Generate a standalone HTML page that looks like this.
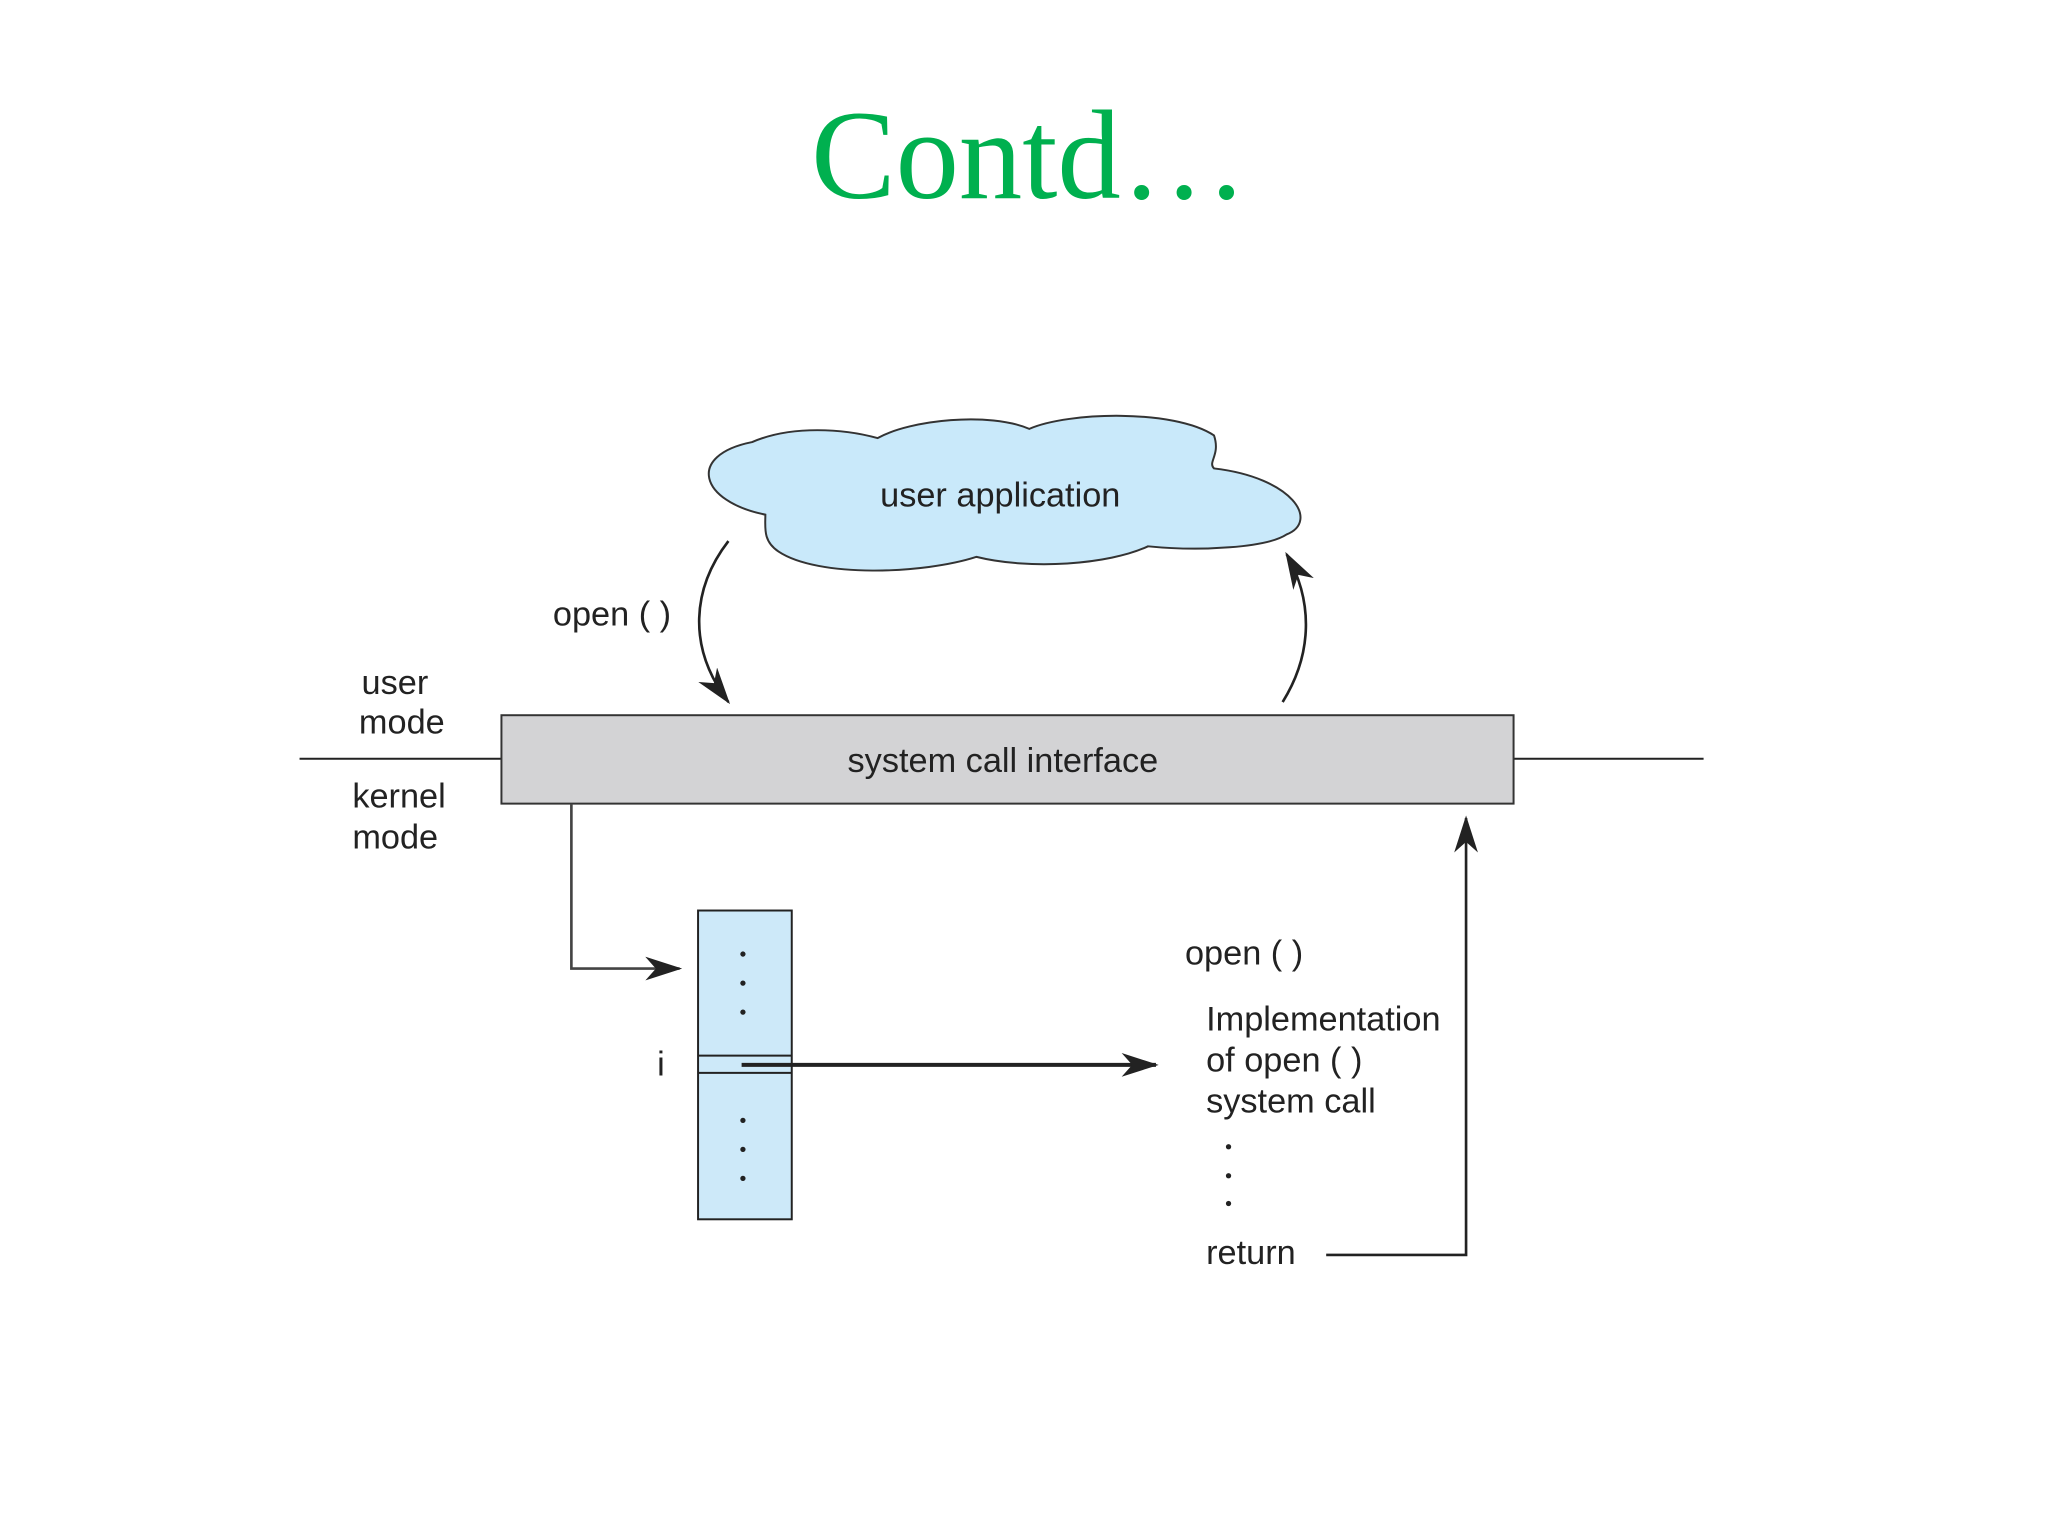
<!DOCTYPE html>
<html><head><meta charset="utf-8"><style>html,body{margin:0;padding:0;background:#fff}svg{display:block}</style></head>
<body>
<svg width="2048" height="1536" viewBox="0 0 1552 1164" xmlns="http://www.w3.org/2000/svg" font-family="Liberation Sans, sans-serif">
<defs>
<marker id="ah" markerWidth="12" markerHeight="10" refX="11" refY="5" orient="auto" markerUnits="userSpaceOnUse"><path d="M0,0 L12,5 L0,10 L4,5 Z" fill="#222"/></marker>
<marker id="ah2" markerWidth="28" markerHeight="18" refX="26" refY="9" orient="auto" markerUnits="userSpaceOnUse"><path d="M0,0 L28,9 L0,18 L8,9 Z" fill="#222"/></marker>
</defs>
<rect width="1552" height="1164" fill="#fff"/>
<text x="780" y="150" text-anchor="middle" font-family="Liberation Serif, serif" font-size="96" fill="#00b04f">Contd…</text>
<path d="M580,390 C530,380 520,345 570,335 C600,322 640,325 665,332 C690,318 750,312 780,325 C810,312 890,310 920,330 C925,345 915,350 920,355 C980,362 1000,395 975,405 C960,415 910,418 870,414 C840,428 780,432 740,422 C700,435 620,438 590,418 C578,410 580,400 580,390 Z" fill="#c9e9fa" stroke="#333" stroke-width="1.5"/>
<text x="758" y="384" text-anchor="middle" font-size="26" fill="#222">user application</text>
<line x1="227" y1="575" x2="1291" y2="575" stroke="#222" stroke-width="1.5"/>
<rect x="380" y="542" width="767" height="67" fill="#d3d3d5" stroke="#333" stroke-width="1.5"/>
<text x="760" y="585" text-anchor="middle" font-size="26" fill="#222">system call interface</text>
<text x="274" y="526" font-size="26" fill="#222">user</text>
<text x="272" y="556" font-size="26" fill="#222">mode</text>
<text x="267" y="612" font-size="26" fill="#222">kernel</text>
<text x="267" y="643" font-size="26" fill="#222">mode</text>
<text x="419" y="474" font-size="26" fill="#222">open ( )</text>
<path d="M552,410 C525,445 520,490 552,532" fill="none" stroke="#222" stroke-width="2" marker-end="url(#ah2)"/>
<path d="M972,532 C995,495 995,455 975,420" fill="none" stroke="#222" stroke-width="2" marker-end="url(#ah2)"/>
<rect x="529" y="690" width="71" height="234" fill="#cde9f9" stroke="#222" stroke-width="1.5"/>
<line x1="529" y1="800" x2="600" y2="800" stroke="#222" stroke-width="1.5"/>
<line x1="529" y1="813" x2="600" y2="813" stroke="#222" stroke-width="1.5"/>
<g fill="#222"><circle cx="563" cy="723" r="2"/><circle cx="563" cy="745" r="2"/><circle cx="563" cy="767" r="2"/><circle cx="563" cy="849" r="2"/><circle cx="563" cy="871" r="2"/><circle cx="563" cy="893" r="2"/>
<circle cx="931" cy="869" r="2"/><circle cx="931" cy="891" r="2"/><circle cx="931" cy="912" r="2"/></g>
<text x="498" y="815" font-size="26" fill="#222">i</text>
<polyline points="433,609 433,734 515,734" fill="none" stroke="#444" stroke-width="2" marker-end="url(#ah2)"/>
<line x1="562" y1="807" x2="876" y2="807" stroke="#222" stroke-width="3" marker-end="url(#ah2)"/>
<polyline points="1005,951 1111,951 1111,620" fill="none" stroke="#222" stroke-width="2" marker-end="url(#ah2)"/>
<text x="898" y="731" font-size="26" fill="#222">open ( )</text>
<text x="914" y="781" font-size="26" fill="#222">Implementation</text>
<text x="914" y="812" font-size="26" fill="#222">of open ( )</text>
<text x="914" y="843" font-size="26" fill="#222">system call</text>
<text x="914" y="958" font-size="26" fill="#222">return</text>
</svg>
</body></html>
